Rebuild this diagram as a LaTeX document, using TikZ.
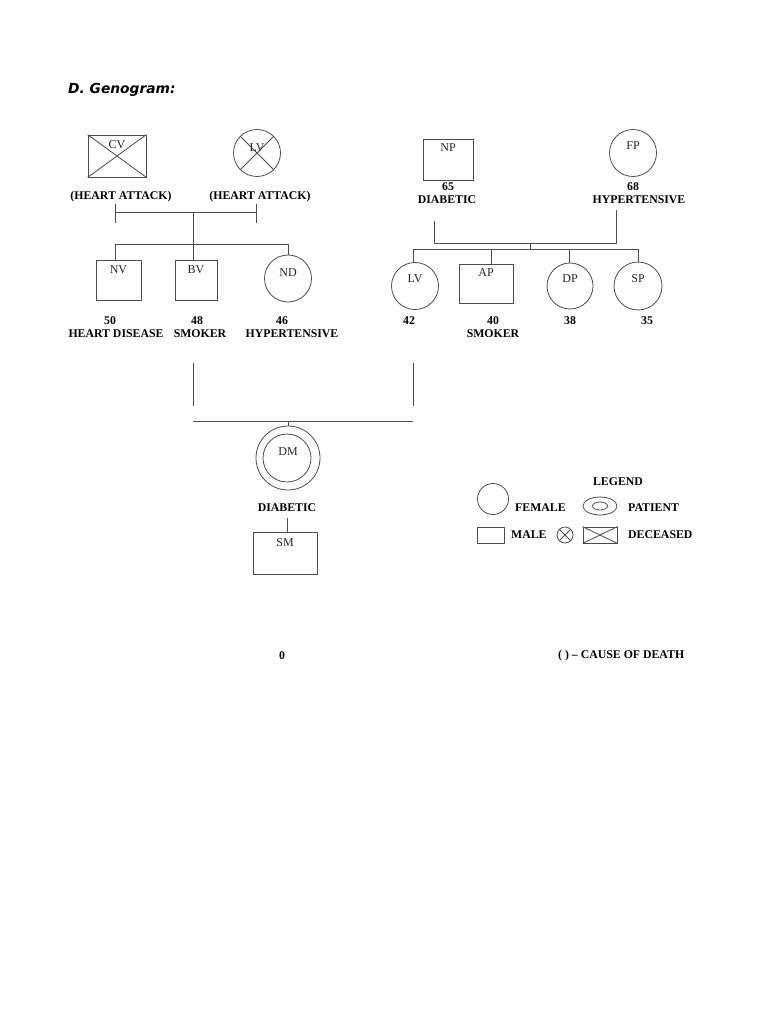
\documentclass[tikz,border=0pt]{standalone}
\usepackage{fontspec}
\setmainfont{Liberation Serif}
\newfontfamily\titlefont{DejaVu Sans}
\usetikzlibrary{shapes.geometric}

\tikzset{
  gline/.style={draw=black!70, line width=0.8pt},
  malebox/.style={gline, rectangle, inner sep=0pt},
  femcirc/.style={gline, circle, inner sep=0pt},
  lbl/.style={inner sep=0pt, text=black!85, font=\fontsize{12}{14}\selectfont},
  note/.style={inner sep=0pt, font=\bfseries\fontsize{11.8}{13}\selectfont},
}

\begin{document}
\begin{tikzpicture}[x=1pt,y=-1pt]
  \useasboundingbox[fill=white] (0,0) rectangle (768,1024);

  % Pavadinimas
  \node[anchor=west, inner sep=0pt, font=\titlefont\bfseries\itshape\fontsize{13.8}{15}\selectfont] (title) at (68,90) {D. Genogram:};

  % Tevo tevai
  \node[malebox, minimum width=58pt, minimum height=42pt] (cv) at (117,156) {};
  \draw[gline] (cv.north west) -- (cv.south east) (cv.north east) -- (cv.south west);
  \node[lbl, anchor=north] (cvl) at ([yshift=-6pt]cv.north) {CV};

  \node[femcirc, minimum size=47pt] (lvg) at (257,153) {};
  \draw[gline] (lvg.north west) -- (lvg.south east) (lvg.north east) -- (lvg.south west);
  \node[lbl] (lvgl) at ([yshift=5pt]lvg.center) {LV};

  \node[note] (cvd) at (121,197) {(HEART ATTACK)};
  \node[note] (lvd) at (260,197) {(HEART ATTACK)};

  % Santuokos linija
  \coordinate (pa-l) at (115,212);
  \coordinate (pa-r) at (256,212);
  \coordinate (pa-m) at (193,212);
  \draw[gline] (pa-l) -- (pa-r);
  \draw[gline] (115,204) -- (115,223);
  \draw[gline] (256,204) -- (256,223);

  % Vaikai (kaire)
  \node[malebox, minimum width=45pt, minimum height=40pt] (nv) at (118.5,280) {};
  \node[lbl, anchor=north] (nvl) at ([yshift=-6pt]nv.north) {NV};
  \node[malebox, minimum width=42pt, minimum height=40pt] (bv) at (196,280) {};
  \node[lbl, anchor=north] (bvl) at ([yshift=-6pt]bv.north) {BV};
  \node[femcirc, minimum size=47pt] (nd) at (288,278.5) {};
  \node[lbl] (ndl) at ([yshift=6pt]nd.center) {ND};

  \coordinate (ls-l) at (115,244);
  \coordinate (ls-m) at (193,244);
  \coordinate (ls-r) at (288,244);
  \draw[gline] (pa-m) -- (ls-m);
  \draw[gline] (ls-l) -- (ls-r);
  \draw[gline] (ls-l) -- (ls-l |- nv.north);
  \draw[gline] (ls-m) -- (ls-m |- bv.north);
  \draw[gline] (ls-r) -- (nd.north);

  \node[note] (nva) at (110,321) {50};
  \node[note] (nvd) at (116,334) {HEART DISEASE};
  \node[note] (bva) at (197,321) {48};
  \node[note] (bvd) at (200,334) {SMOKER};
  \node[note] (nda) at (282,321) {46};
  \node[note] (ndd) at (292,334) {HYPERTENSIVE};

  % Motinos tevai
  \node[malebox, minimum width=50pt, minimum height=41pt] (np) at (448,159.5) {};
  \node[lbl, anchor=north] (npl) at ([yshift=-5pt]np.north) {NP};
  \node[femcirc, minimum size=47pt] (fp) at (633,153) {};
  \node[lbl] (fpl) at ([yshift=7pt]fp.center) {FP};

  \node[note] (npa) at (448,187) {65};
  \node[note] (npd) at (447,200) {DIABETIC};
  \node[note] (fpa) at (633,187) {68};
  \node[note] (fpd) at (639,200) {HYPERTENSIVE};

  \coordinate (pb-l) at (434,243);
  \coordinate (pb-r) at (616,243);
  \coordinate (pb-m) at (530,243);
  \draw[gline] (434,221) -- (pb-l) -- (pb-r) -- (616,210);

  % Vaikai (desine)
  \node[femcirc, minimum size=47pt] (lv) at (415,286) {};
  \node[lbl] (lvl) at ([yshift=7pt]lv.center) {LV};
  \node[malebox, minimum width=54pt, minimum height=39pt] (ap) at (486,283.5) {};
  \node[lbl, anchor=north] (apl) at ([yshift=-5pt]ap.north) {AP};
  \node[femcirc, minimum size=46pt] (dp) at (570,286) {};
  \node[lbl] (dpl) at ([yshift=7pt]dp.center) {DP};
  \node[femcirc, minimum size=48pt] (sp) at (638,286) {};
  \node[lbl] (spl) at ([yshift=7pt]sp.center) {SP};

  \coordinate (rs-l) at (413,249);
  \coordinate (rs-a) at (491,249);
  \coordinate (rs-d) at (569,249);
  \coordinate (rs-r) at (638,249);
  \draw[gline] (pb-m) -- (pb-m |- rs-l);
  \draw[gline] (rs-l) -- (rs-r);
  \draw[gline] (rs-l) -- (rs-l |- lv.north);
  \draw[gline] (rs-a) -- (rs-a |- ap.north);
  \draw[gline] (rs-d) -- (rs-d |- dp.north);
  \draw[gline] (rs-r) -- (sp.north);

  \node[note] (lva) at (409,321) {42};
  \node[note] (apa) at (493,321) {40};
  \node[note] (apd) at (493,334) {SMOKER};
  \node[note] (dpa) at (570,321) {38};
  \node[note] (spa) at (647,321) {35};

  % Pacientas
  \coordinate (ma-t) at (193,363);
  \coordinate (ma-b) at (193,406);
  \coordinate (mb-t) at (413,363);
  \coordinate (mb-b) at (413,406);
  \draw[gline] (ma-t) -- (ma-b);
  \draw[gline] (mb-t) -- (mb-b);
  \coordinate (mc-l) at (193,421);
  \coordinate (mc-r) at (413,421);
  \coordinate (mc-m) at (288,421);
  \draw[gline] (mc-l) -- (mc-r);

  \node[femcirc, minimum size=64pt] (dm) at (288,458) {};
  \node[femcirc, minimum size=48pt] (dmi) at (287,458) {};
  \node[lbl] (dml) at ([yshift=6pt]dm.center) {DM};
  \draw[gline] (mc-m) -- (dm.north);
  \node[note] (dmd) at (287,508) {DIABETIC};

  \node[malebox, minimum width=64pt, minimum height=42pt] (sm) at (285,553) {};
  \node[lbl, anchor=north] (sml) at ([yshift=-7pt]sm.north) {SM};
  \coordinate (dm-s) at (287,518);
  \draw[gline] (dm-s) -- (dm-s |- sm.north);

  % Legenda
  \node[note] (leg) at (618,482) {LEGEND};
  \node[femcirc, minimum size=31pt] (lg-f) at (493,499) {};
  \node[note, anchor=west] (lg-ft) at (515,508) {FEMALE};
  \node[gline, ellipse, inner sep=0pt, minimum width=34pt, minimum height=18pt] (lg-p) at (600,506) {};
  \node[gline, ellipse, inner sep=0pt, minimum width=15pt, minimum height=8pt] (lg-pi) at (600,506) {};
  \node[note, anchor=west] (lg-pt) at (628,508) {PATIENT};
  \node[malebox, minimum width=27pt, minimum height=16pt] (lg-m) at (490.5,535) {};
  \node[note, anchor=west] (lg-mt) at (511,535) {MALE};
  \node[femcirc, minimum size=16pt] (lg-x) at (565,535) {};
  \draw[gline] (lg-x.north west) -- (lg-x.south east) (lg-x.north east) -- (lg-x.south west);
  \node[malebox, minimum width=34pt, minimum height=16pt] (lg-d) at (600,535) {};
  \draw[gline] (lg-d.north west) -- (lg-d.south east) (lg-d.north east) -- (lg-d.south west);
  \node[note, anchor=west] (lg-dt) at (628,535) {DECEASED};

  % Apacia
  \node[note] (zero) at (282,656) {0};
  \node[note, anchor=west] (cod) at (558,656) {( ) -- CAUSE OF DEATH};
\end{tikzpicture}
\end{document}
